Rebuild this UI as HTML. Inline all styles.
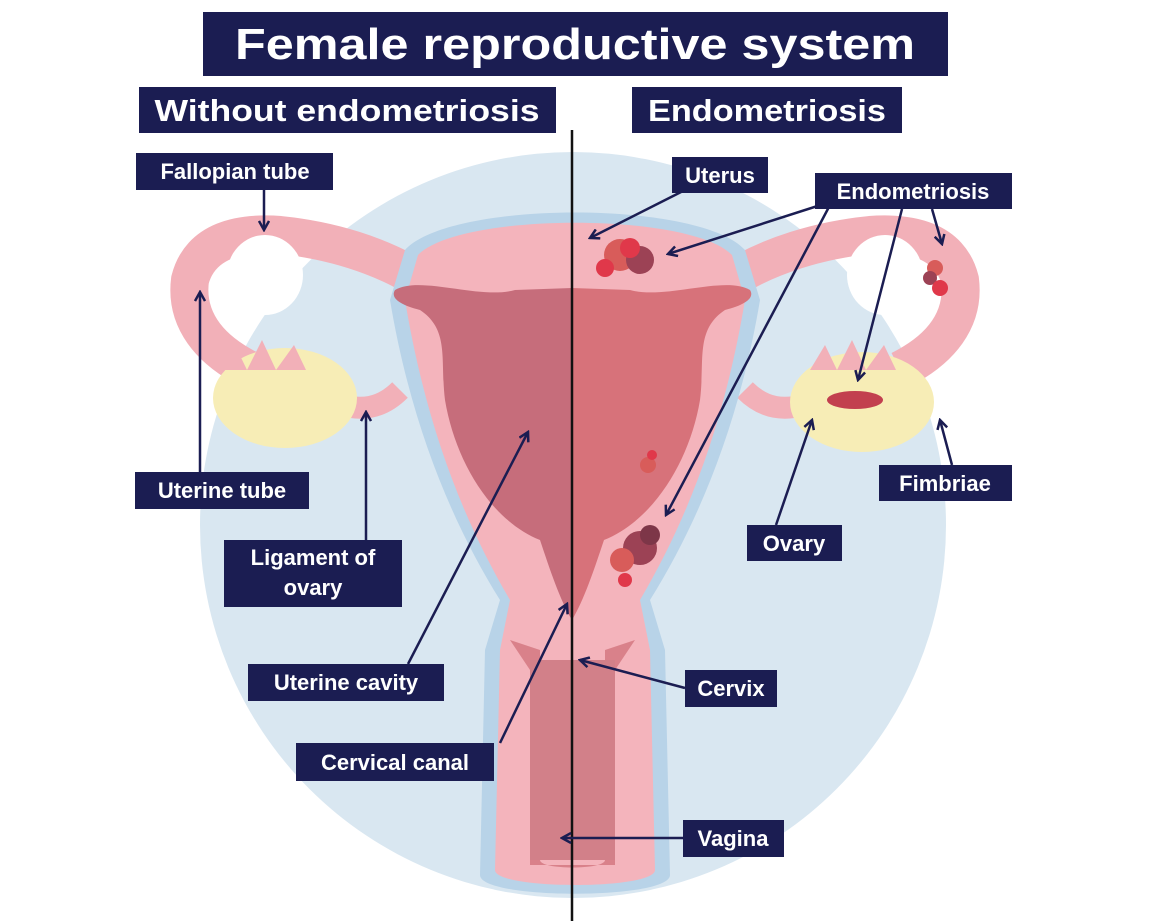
<!DOCTYPE html>
<html><head><meta charset="utf-8"><style>
html,body{margin:0;padding:0;background:#fff;width:1152px;height:921px;overflow:hidden}
svg{display:block}
text{font-family:"Liberation Sans",sans-serif;fill:#fff}
</style></head><body>
<svg width="1152" height="921" viewBox="0 0 1152 921" xmlns="http://www.w3.org/2000/svg">
<defs>
<marker id="a" markerWidth="12" markerHeight="12" refX="10" refY="6" orient="auto" markerUnits="userSpaceOnUse">
<path d="M1,1 L10,6 L1,11" fill="none" stroke="#1b1d52" stroke-width="2.5"/>
</marker>
</defs>
<circle cx="573" cy="525" r="373" fill="#d9e7f1"/>
<path d="M420,280 C380,255 330,240 280,235 C240,232 200,240 190,280 C185,320 210,350 250,370" fill="none" stroke="#f2b0b8" stroke-width="38"/>
<path d="M400,390 C380,410 360,410 340,405" fill="none" stroke="#f2b0b8" stroke-width="22"/>
<ellipse cx="265" cy="275" rx="38" ry="40" fill="#fff"/>
<path d="M730,280 C770,255 820,240 870,235 C910,232 950,240 960,280 C965,320 940,350 900,370" fill="none" stroke="#f2b0b8" stroke-width="38"/>
<path d="M745,390 C765,410 785,410 805,405" fill="none" stroke="#f2b0b8" stroke-width="22"/>
<ellipse cx="885" cy="275" rx="38" ry="40" fill="#fff"/>
<ellipse cx="285" cy="398" rx="72" ry="50" fill="#f7edb6"/>
<ellipse cx="862" cy="402" rx="72" ry="50" fill="#f7edb6"/>
<path d="M220,370 l15,-25 l12,25 l15,-30 l14,30 l18,-25 l12,25" fill="#f2b0b8"/>
<path d="M810,370 l15,-25 l12,25 l15,-30 l14,30 l18,-25 l12,25" fill="#f2b0b8"/>
<path d="M405,250 C450,200 700,200 745,250 L760,300 C740,420 700,520 650,600 L665,650 L670,875 C670,900 480,900 480,875 L485,650 L500,600 C450,520 410,420 390,300 Z" fill="#b8d3e8"/>
<path d="M418,255 C460,212 690,212 732,255 L745,300 C725,420 690,515 640,600 L650,650 L655,870 C655,890 495,890 495,870 L500,650 L510,600 C460,515 425,420 405,300 Z" fill="#f4b4bc"/>
<path d="M395,290 C420,275 480,300 515,290 L572,288 L572,620 C560,600 550,570 540,540 C490,520 455,460 445,400 C440,360 450,330 420,310 C400,305 390,298 395,290 Z" fill="#c66d7b"/>
<path d="M750,290 C725,275 665,300 630,290 L572,288 L572,620 C584,600 594,570 604,540 C654,520 690,460 700,400 C705,360 695,330 725,310 C745,305 755,298 750,290 Z" fill="#d7727a"/>
<path d="M510,640 L540,650 L540,860 C540,870 605,870 605,860 L605,650 L635,640 L615,670 L615,865 L530,865 L530,670 Z" fill="#d9818a"/>
<rect x="530" y="660" width="85" height="200" fill="#d28089"/>
<g fill="#9c4255"><circle cx="620" cy="255" r="16" fill="#d85c5a"/><circle cx="640" cy="260" r="14"/><circle cx="605" cy="268" r="9" fill="#e0384a"/><circle cx="630" cy="248" r="10" fill="#e0384a"/>
<circle cx="640" cy="548" r="17"/><circle cx="622" cy="560" r="12" fill="#d85c5a"/><circle cx="650" cy="535" r="10" fill="#7d3648"/><circle cx="625" cy="580" r="7" fill="#e0384a"/>
<circle cx="648" cy="465" r="8" fill="#d85c5a"/><circle cx="652" cy="455" r="5" fill="#e0384a"/>
<circle cx="935" cy="268" r="8" fill="#d85c5a"/><circle cx="930" cy="278" r="7"/><circle cx="940" cy="288" r="8" fill="#e0384a"/>
<ellipse cx="855" cy="400" rx="28" ry="9" fill="#c2404f"/></g>
<line x1="572" y1="130" x2="572" y2="921" stroke="#111" stroke-width="2.5"/>
<rect x="203" y="12" width="745" height="64" fill="#1b1d52"/>
<text x="575" y="59" font-size="44" text-anchor="middle" font-weight="bold" textLength="680" lengthAdjust="spacingAndGlyphs">Female reproductive system</text>
<rect x="139" y="87" width="417" height="46" fill="#1b1d52"/>
<text x="347" y="121" font-size="31" text-anchor="middle" font-weight="bold" textLength="385" lengthAdjust="spacingAndGlyphs">Without endometriosis</text>
<rect x="632" y="87" width="270" height="46" fill="#1b1d52"/>
<text x="767" y="121" font-size="31" text-anchor="middle" font-weight="bold" textLength="238" lengthAdjust="spacingAndGlyphs">Endometriosis</text>
<g stroke="#1b1d52" stroke-width="2.5" fill="none" marker-end="url(#a)">
<line x1="264" y1="190" x2="264" y2="230"/>
<line x1="200" y1="472" x2="200" y2="292"/>
<line x1="366" y1="540" x2="366" y2="412"/>
<line x1="408" y1="664" x2="528" y2="432"/>
<line x1="500" y1="743" x2="567" y2="604"/>
<line x1="685" y1="688" x2="580" y2="660"/>
<line x1="683" y1="838" x2="562" y2="838"/>
<line x1="685" y1="190" x2="590" y2="238"/>
<line x1="830" y1="202" x2="668" y2="254"/>
<line x1="830" y1="205" x2="666" y2="515"/>
<line x1="902" y1="209" x2="858" y2="380"/>
<line x1="932" y1="209" x2="942" y2="244"/>
<line x1="776" y1="525" x2="812" y2="420"/>
<line x1="952" y1="465" x2="940" y2="420"/>
</g>
<g fill="#1b1d52">
<rect x="136" y="153" width="197" height="37"/><rect x="135" y="472" width="174" height="37"/>
<rect x="224" y="540" width="178" height="67"/><rect x="248" y="664" width="196" height="37"/>
<rect x="296" y="743" width="198" height="38"/><rect x="672" y="157" width="96" height="36"/>
<rect x="815" y="173" width="197" height="36"/><rect x="879" y="465" width="133" height="36"/>
<rect x="747" y="525" width="95" height="36"/><rect x="685" y="670" width="92" height="37"/>
<rect x="683" y="820" width="101" height="37"/>
</g>
<g font-size="22" text-anchor="middle" font-weight="bold">
<text x="235" y="179">Fallopian tube</text>
<text x="222" y="498">Uterine tube</text>
<text x="313" y="565">Ligament of</text>
<text x="313" y="595">ovary</text>
<text x="346" y="690">Uterine cavity</text>
<text x="395" y="770">Cervical canal</text>
<text x="720" y="183">Uterus</text>
<text x="913" y="199">Endometriosis</text>
<text x="945" y="491">Fimbriae</text>
<text x="794" y="551">Ovary</text>
<text x="731" y="696">Cervix</text>
<text x="733" y="846">Vagina</text>
</g>
</svg>
</body></html>
